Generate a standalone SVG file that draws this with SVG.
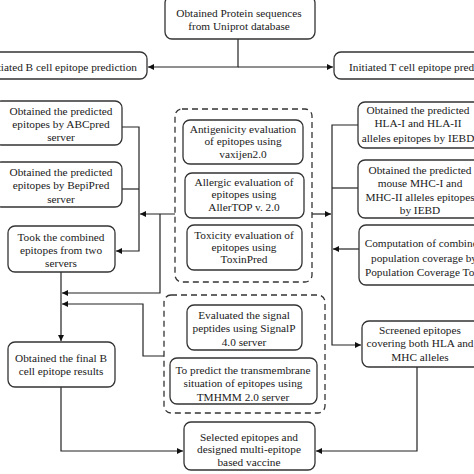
<svg xmlns="http://www.w3.org/2000/svg" width="474" height="474" viewBox="0 0 474 474">
<defs>
<marker id="ah" viewBox="0 0 10 10" refX="10" refY="5" markerWidth="9" markerHeight="6" markerUnits="userSpaceOnUse" orient="auto">
<path d="M0,0 L10,5 L0,10 z" fill="#111"/>
</marker>
<style>
.box{fill:#fff;stroke:#333;stroke-width:1.3}
.dash{fill:none;stroke:#333;stroke-width:1.3;stroke-dasharray:6,4}
.ln{fill:none;stroke:#222;stroke-width:1.2}
.arr{marker-end:url(#ah)}
text{font-family:"Liberation Serif","Times New Roman",serif;font-size:11.3px;fill:#1a1a1a;text-anchor:middle}
</style>
</defs>
<rect width="474" height="474" fill="#fff"/>
<g id="connectors">
<path class="ln arr" d="M238,39 V67 H148"/>
<path class="ln arr" d="M238,67 H333"/>
<path class="ln arr" d="M122,127 H139 V251 H116"/>
<path class="ln" d="M122,189 H139"/>
<path class="ln arr" d="M175,214 H140"/>
<path class="ln arr" d="M160,214 V293 H62"/>
<path class="ln arr" d="M61,272 V341"/>
<path class="ln arr" d="M164,356 H143 V304 H62"/>
<path class="ln arr" d="M61,387 V451 H183"/>
<path class="ln arr" d="M312,214 H331"/>
<path class="ln arr" d="M358,125 H332 V345 H361"/>
<path class="ln" d="M358,188 H332"/>
<path class="ln arr" d="M359,249 H333"/>
<path class="ln arr" d="M417,367 V451 H316"/>
</g>
<g id="n-top">
<rect class="box" x="165" y="-4" width="150" height="43" rx="7"/>
<text x="239" y="17">Obtained Protein sequences</text>
<text x="239" y="30">from Uniprot database</text>
</g>
<g id="n-bcell">
<rect class="box" x="-12" y="52" width="159" height="27" rx="7"/>
<text x="137" y="71" style="text-anchor:end">Initiated B cell epitope prediction</text>
</g>
<g id="n-tcell">
<rect class="box" x="334" y="52" width="160" height="27" rx="7"/>
<text x="349" y="71" style="text-anchor:start">Initiated T cell epitope prediction</text>
</g>
<g id="n-abcpred">
<rect class="box" x="-6" y="101" width="128" height="44" rx="7"/>
<text x="61" y="115">Obtained the predicted</text>
<text x="61" y="128">epitopes by ABCpred</text>
<text x="61" y="141">server</text>
</g>
<g id="n-bepipred">
<rect class="box" x="-6" y="162" width="128" height="45" rx="7"/>
<text x="61" y="176">Obtained the predicted</text>
<text x="61" y="189">epitopes by BepiPred</text>
<text x="61" y="203">server</text>
</g>
<g id="n-combined">
<rect class="box" x="8" y="226" width="107" height="46" rx="7"/>
<text x="61" y="241">Took the combined</text>
<text x="61" y="254">epitopes from two</text>
<text x="61" y="267">servers</text>
</g>
<g id="n-finalb">
<rect class="box" x="8" y="342" width="107" height="45" rx="7"/>
<text x="61" y="362">Obtained the final B</text>
<text x="61" y="375">cell epitope results</text>
</g>
<g id="g-eval">
<rect class="dash" x="175" y="109" width="137" height="173" rx="7"/>
</g>
<g id="n-antigen">
<rect class="box" x="183" y="120" width="120" height="44" rx="7"/>
<text x="243" y="133">Antigenicity evaluation</text>
<text x="243" y="145">of epitopes using</text>
<text x="243" y="158">vaxijen2.0</text>
</g>
<g id="n-allergic">
<rect class="box" x="185" y="173" width="119" height="45" rx="7"/>
<text x="244" y="186">Allergic evaluation of</text>
<text x="244" y="198">epitopes using</text>
<text x="244" y="211">AllerTOP v. 2.0</text>
</g>
<g id="n-toxicity">
<rect class="box" x="187" y="225" width="115" height="45" rx="7"/>
<text x="244" y="239">Toxicity evaluation of</text>
<text x="244" y="251">epitopes using</text>
<text x="244" y="263">ToxinPred</text>
</g>
<g id="g-signal">
<rect class="dash" x="164" y="295" width="161" height="118" rx="7"/>
</g>
<g id="n-signalp">
<rect class="box" x="187" y="305" width="115" height="45" rx="7"/>
<text x="244" y="319">Evaluated the signal</text>
<text x="244" y="332">peptides using SignalP</text>
<text x="244" y="346">4.0 server</text>
</g>
<g id="n-tmhmm">
<rect class="box" x="170" y="358" width="147" height="46" rx="7"/>
<text x="243" y="374">To predict the transmembrane</text>
<text x="243" y="387">situation of epitopes using</text>
<text x="243" y="401">TMHMM 2.0 server</text>
</g>
<g id="n-selected">
<rect class="box" x="184" y="422" width="131" height="48" rx="7"/>
<text x="249" y="441">Selected epitopes and</text>
<text x="249" y="453">designed multi-epitope</text>
<text x="249" y="466">based vaccine</text>
</g>
<g id="n-hla">
<rect class="box" x="358" y="102" width="130" height="46" rx="7"/>
<text x="418" y="114">Obtained the predicted</text>
<text x="418" y="127">HLA-I and HLA-II</text>
<text x="418" y="142">alleles epitopes by IEBD</text>
</g>
<g id="n-mhc">
<rect class="box" x="358" y="160" width="130" height="58" rx="7"/>
<text x="420" y="174">Obtained the predicted</text>
<text x="420" y="187">mouse MHC-I and</text>
<text x="420" y="201">MHC-II alleles epitopes</text>
<text x="420" y="214">by IEBD</text>
</g>
<g id="n-coverage">
<rect class="box" x="359" y="225" width="130" height="60" rx="7"/>
<text x="424" y="247">Computation of combined</text>
<text x="424" y="262">population coverage by</text>
<text x="424" y="276">Population Coverage Tool</text>
</g>
<g id="n-screened">
<rect class="box" x="362" y="321" width="125" height="46" rx="7"/>
<text x="420" y="334">Screened epitopes</text>
<text x="420" y="347">covering both HLA and</text>
<text x="420" y="361">MHC alleles</text>
</g>
</svg>
